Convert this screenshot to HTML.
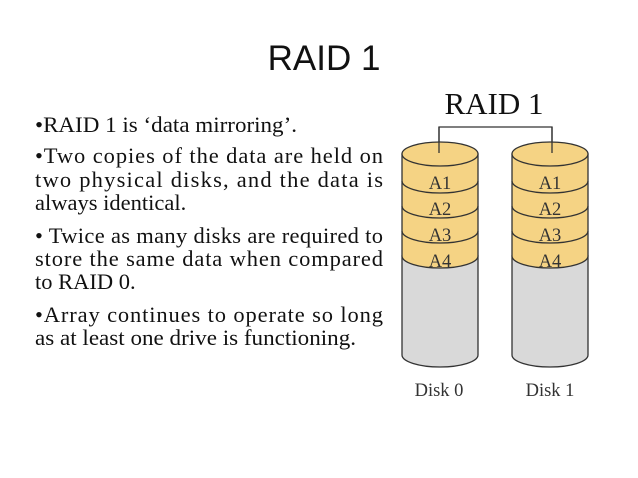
<!DOCTYPE html>
<html><head><meta charset="utf-8"><style>html,body{margin:0;padding:0;background:#fff}svg{display:block}</style></head>
<body>
<svg width="638" height="478" viewBox="0 0 638 478" xmlns="http://www.w3.org/2000/svg">
<rect width="638" height="478" fill="#fff"/>
<text x="324" y="70" font-family="Liberation Sans, sans-serif" font-size="35" text-anchor="middle" fill="#111">RAID 1</text>
<g font-family="Liberation Serif, serif" font-size="22.5" fill="#111">
<text x="35" y="132" textLength="262" lengthAdjust="spacingAndGlyphs">•RAID 1 is ‘data mirroring’.</text>
<text x="35" y="163" textLength="348" lengthAdjust="spacing">•Two copies of the data are held on</text>
<text x="35" y="187" textLength="348" lengthAdjust="spacing">two physical disks, and the data is</text>
<text x="35" y="210">always identical.</text>
<text x="35" y="243" textLength="348" lengthAdjust="spacing">• Twice as many disks are required to</text>
<text x="35" y="266" textLength="348" lengthAdjust="spacing">store the same data when compared</text>
<text x="35" y="289">to RAID 0.</text>
<text x="35" y="322" textLength="348" lengthAdjust="spacing">•Array continues to operate so long</text>
<text x="35" y="345" textLength="321" lengthAdjust="spacingAndGlyphs">as at least one drive is functioning.</text>
</g>
<text x="494" y="114" font-family="Liberation Serif, serif" font-size="31" text-anchor="middle" fill="#111">RAID 1</text>
<polyline points="439,153 439,127 552,127 552,153" fill="none" stroke="#333" stroke-width="1.3"/>
<g stroke="#333" stroke-width="1.3">
<path d="M402,256 L402,355 A38,12 0 0 0 478,355 L478,256 Z" fill="#d9d9d9"/>
<path d="M402,154 L402,256 A38,12 0 0 0 478,256 L478,154 Z" fill="#f5d384"/>
<path d="M402,231 A38,12 0 0 0 478,231" fill="none"/>
<path d="M402,206 A38,12 0 0 0 478,206" fill="none"/>
<path d="M402,181 A38,12 0 0 0 478,181" fill="none"/>
<ellipse cx="440" cy="154" rx="38" ry="12" fill="#f5d384"/>
</g>
<g stroke="#333" stroke-width="1.3">
<path d="M512,256 L512,355 A38,12 0 0 0 588,355 L588,256 Z" fill="#d9d9d9"/>
<path d="M512,154 L512,256 A38,12 0 0 0 588,256 L588,154 Z" fill="#f5d384"/>
<path d="M512,231 A38,12 0 0 0 588,231" fill="none"/>
<path d="M512,206 A38,12 0 0 0 588,206" fill="none"/>
<path d="M512,181 A38,12 0 0 0 588,181" fill="none"/>
<ellipse cx="550" cy="154" rx="38" ry="12" fill="#f5d384"/>
</g>
<polyline points="439,127 439,153" stroke="#333" stroke-width="1.3"/>
<polyline points="552,127 552,153" stroke="#333" stroke-width="1.3"/>
<g font-family="Liberation Serif, serif" font-size="18.5" fill="#333" text-anchor="middle">
<text x="440" y="189">A1</text><text x="440" y="215">A2</text><text x="440" y="241">A3</text><text x="440" y="267">A4</text>
<text x="550" y="189">A1</text><text x="550" y="215">A2</text><text x="550" y="241">A3</text><text x="550" y="267">A4</text>
<text x="439" y="396">Disk 0</text><text x="550" y="396">Disk 1</text>
</g>
</svg>
</body></html>
